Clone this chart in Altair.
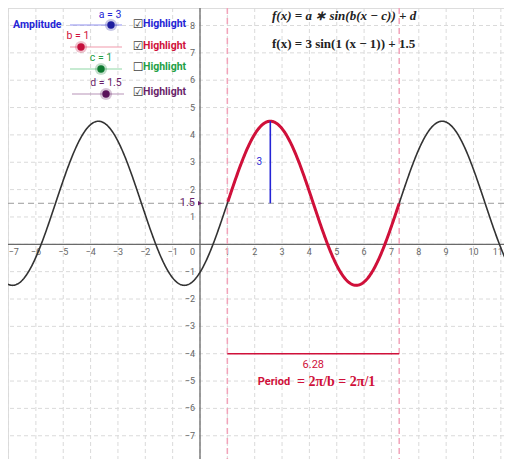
import altair as alt
import pandas as pd
import numpy as np

# slider parameters shown in the picture
a, b, c, d = 3, 1, 1, 1.5
period = 2 * np.pi / b          # 6.28

x_labels = [-7, -6, -5, -4, -3, -2, -1, 1, 2, 3, 4, 5, 6, 7, 8, 9, 10, 11]
y_labels = [-7, -6, -5, -4, -3, -2, -1, 1, 2, 3, 4, 5, 6, 7, 8]
grid_x = list(range(-7, 12))
grid_y = list(range(-7, 9))
period_y = -4

XD = [-7.02, 11.115]
YD = [-7.85, 8.64]
W, H = 496, 451
xs = alt.Scale(domain=XD, nice=False, zero=False)
ys = alt.Scale(domain=YD, nice=False, zero=False)
one = pd.DataFrame({"k": [0]})

RED = "#d0103a"
BLUE = "#2424d6"
GREEN = "#22a045"
PURPLE = "#6a1f6a"
AXIS = "#6a6a6a"


def X(f):
    return alt.X(f, type="quantitative", scale=xs, axis=None)


def Y(f):
    return alt.Y(f, type="quantitative", scale=ys, axis=None)


layers = []

# grid
layers.append(alt.Chart(pd.DataFrame({"gx": grid_x})).mark_rule(
    color="#dadada", strokeDash=[4, 3], strokeWidth=1).encode(x=X("gx")))
layers.append(alt.Chart(pd.DataFrame({"gy": grid_y})).mark_rule(
    color="#dadada", strokeDash=[4, 3], strokeWidth=1).encode(y=Y("gy")))

# axes
layers.append(alt.Chart(pd.DataFrame({"z": [0]})).mark_rule(
    color=AXIS, strokeWidth=1.3).encode(x=X("z")))
layers.append(alt.Chart(pd.DataFrame({"z": [0]})).mark_rule(
    color=AXIS, strokeWidth=1.3).encode(y=Y("z")))

# tick labels (edge labels nudged inward so they are not cut)
xl = pd.DataFrame({"v": x_labels, "t": [str(v).replace("-", "\u2212") for v in x_labels], "z": 0})
xl_mid = xl[(xl.v > x_labels[0]) & (xl.v < x_labels[-1])]
layers.append(alt.Chart(xl_mid).mark_text(
    color="#666", fontSize=9, font="Roboto", baseline="middle", align="center", dy=8
).encode(x=X("v"), y=Y("z"), text="t:N"))
layers.append(alt.Chart(xl[xl.v == x_labels[0]]).mark_text(
    color="#666", fontSize=9, font="Roboto", baseline="middle", align="left", dy=8, dx=0
).encode(x=X("v"), y=Y("z"), text="t:N"))
layers.append(alt.Chart(xl[xl.v == x_labels[-1]]).mark_text(
    color="#666", fontSize=9, font="Roboto", baseline="middle", align="right", dy=8, dx=2
).encode(x=X("v"), y=Y("z"), text="t:N"))
yl = pd.DataFrame({"v": y_labels, "t": [str(v).replace("-", "\u2212") for v in y_labels], "z": 0})
layers.append(alt.Chart(yl).mark_text(
    color="#666", fontSize=9, font="Roboto", baseline="middle", align="right", dx=-5
).encode(x=X("z"), y=Y("v"), text="t:N"))
layers.append(alt.Chart(pd.DataFrame({"z": [0], "t": ["0"]})).mark_text(
    color="#666", fontSize=9, font="Roboto", baseline="middle", align="right", dx=-5, dy=8
).encode(x=X("z"), y=Y("z"), text="t:N"))

# horizontal dashed line y = d
layers.append(alt.Chart(pd.DataFrame({"d": [d]})).mark_rule(
    color="#9a9a9a", strokeDash=[6, 4], strokeWidth=1).encode(y=Y("d")))

# vertical pink dashed lines at x = c and x = c + period
layers.append(alt.Chart(pd.DataFrame({"vx": [c, c + period]})).mark_rule(
    color="#f2a3ba", strokeDash=[6, 4], strokeWidth=1.5).encode(x=X("vx")))

# full curve
base = alt.Chart(alt.sequence(-7.2, 11.3, 0.02, as_="x")).transform_calculate(
    y=f"{a} * sin({b} * (datum.x - {c})) + {d}")
layers.append(base.mark_line(color="#333333", strokeWidth=1.6, clip=True).encode(
    x=X("x"), y=Y("y")))
# highlighted period
layers.append(base.transform_filter(
    f"datum.x >= {c} && datum.x <= {c + period}").mark_line(
    color=RED, strokeWidth=3, clip=True).encode(x=X("x"), y=Y("y")))

# amplitude segment
amp = pd.DataFrame({"x": [c + period / 4], "y1": [d], "y2": [d + a],
                    "ym": [d + a / 2], "t": [f"{a:g}"]})
layers.append(alt.Chart(amp).mark_rule(color=BLUE, strokeWidth=1.6).encode(
    x=X("x"), y=Y("y1"), y2="y2:Q"))
layers.append(alt.Chart(amp).mark_text(color=BLUE, fontSize=10, font="Roboto",
                                       align="center", dx=-11).encode(
    x=X("x"), y=Y("ym"), text="t:N"))

# d point on y axis
dp = pd.DataFrame({"z": [0], "d": [d], "t": [f"{d:g}"]})
layers.append(alt.Chart(dp).mark_point(shape="triangle-right", filled=True, color=PURPLE,
                                       size=22, opacity=1).encode(x=X("z"), y=Y("d")))
layers.append(alt.Chart(dp).mark_text(color=PURPLE, fontSize=11, font="Roboto",
                                      align="right", dx=-5).encode(
    x=X("z"), y=Y("d"), text="t:N"))

# period segment
pdf = pd.DataFrame({"x1": [c], "x2": [c + period], "xm": [c + period / 2],
                    "y": [period_y], "t": [f"{period:.2f}"]})
layers.append(alt.Chart(pdf).mark_rule(color=RED, strokeWidth=1.6).encode(
    x=X("x1"), x2="x2:Q", y=Y("y")))
layers.append(alt.Chart(pdf).mark_text(color=RED, fontSize=11, font="Roboto",
                                       align="center", dy=11).encode(
    x=X("xm"), y=Y("y"), text="t:N"))


def txt(s, x, y, color, size, weight="normal", align="left", font="Roboto", style="normal"):
    return alt.Chart(one).mark_text(
        text=s, align=align, baseline="middle", color=color, fontSize=size,
        fontWeight=weight, font=font, fontStyle=style
    ).encode(x=alt.value(x - 8), y=alt.value(y - 8))


layers.append(txt("Period", 274, 382, RED, 11, "bold", "center"))
layers.append(txt("= 2\u03c0/b = 2\u03c0/1", 297, 382, RED, 14, "bold", "left",
                  "Liberation Serif"))

# formulas
layers.append(txt("f(x) = a \u2217 sin(b(x \u2212 c)) + d", 272, 16, "#222", 13, "bold", "left",
                  "Liberation Serif", "italic"))
layers.append(txt("f(x) = 3  sin(1  (x \u2212 1)) + 1.5", 272, 44, "#222", 13, "bold", "left",
                  "Liberation Serif"))

# sliders (panel moved down a little so its top label is not cut by the page margin)
PY = 11
layers.append(txt("Amplitude", 13, 14 + PY, BLUE, 10.5, "bold"))
sliders = [
    ("a = 3", 110, 4, 70, 122, 14, 111, BLUE, "#8f8ff0", "#1c1c9e", 13, True),
    ("b = 1", 78, 25, 70, 122, 36, 81, RED, "#f19aac", "#c40f3c", 35, True),
    ("c = 1", 101, 47, 70, 122, 58, 101, GREEN, "#8fd8a6", "#0f7a30", 56, False),
    ("d = 1.5", 106, 72, 72, 124, 83, 106, PURPLE, "#b894b8", "#5a125a", 81, True),
]
for lab, lx, ly, x1, x2, sy, kx, col, lcol, kcol, cy, checked in sliders:
    sy += PY
    ly += PY
    cy += PY
    layers.append(alt.Chart(one).mark_rule(color=lcol, strokeWidth=1.2).encode(
        x=alt.value(x1 - 8), x2=alt.value(x2 - 8), y=alt.value(sy - 8)))
    layers.append(alt.Chart(one).mark_circle(color=kcol, opacity=0.25, size=150).encode(
        x=alt.value(kx - 8), y=alt.value(sy - 8)))
    layers.append(alt.Chart(one).mark_circle(color=kcol, opacity=1, size=55).encode(
        x=alt.value(kx - 8), y=alt.value(sy - 8)))
    layers.append(txt(lab, lx, ly, col, 10.5, "normal", "center"))
    layers.append(txt("\u2611" if checked else "\u2610", 138, cy, "#444", 12, "normal",
                      "center", "DejaVu Sans"))
    layers.append(txt("Highlight", 143, cy, col, 10.5, "bold"))

chart = alt.layer(*layers).properties(
    width=W, height=H, padding=0, autosize=alt.AutoSizeParams(type="none")
).configure_view(stroke=None).configure(background="white")

chart.save("out.html", embed_options={"renderer": "svg", "actions": False})
